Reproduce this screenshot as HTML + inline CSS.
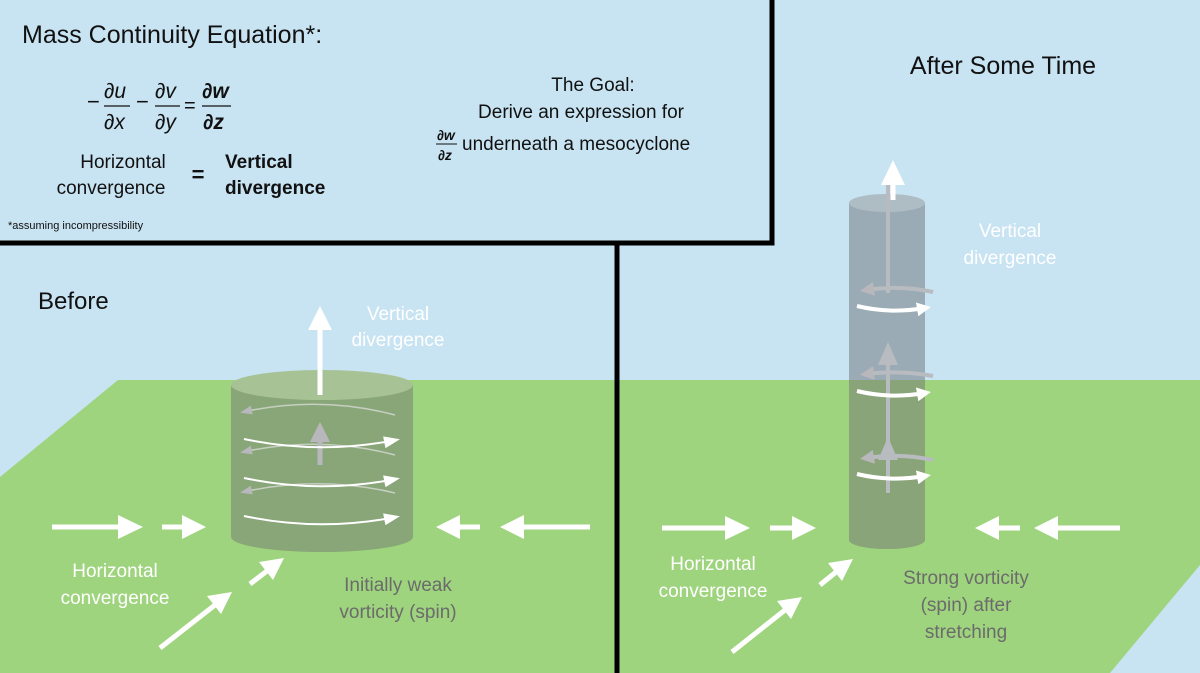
<!DOCTYPE html>
<html><head><meta charset="utf-8"><style>
html,body{margin:0;padding:0;background:#c8e3f2}
svg{display:block}
text{font-family:"Liberation Sans",sans-serif}
</style></head><body>
<svg width="1200" height="673" viewBox="0 0 1200 673" xmlns="http://www.w3.org/2000/svg">
<defs>
<marker id="wh" markerWidth="4" markerHeight="4" refX="2" refY="2" orient="auto" markerUnits="strokeWidth"><path d="M0,0 L4,2 L0,4 z" fill="#fff"/></marker>
<marker id="whs" markerWidth="8" markerHeight="6" refX="6" refY="3" orient="auto" markerUnits="strokeWidth"><path d="M0,0 L8,3 L0,6 z" fill="#fff"/></marker>
<marker id="gys" markerWidth="8" markerHeight="6" refX="6" refY="3" orient="auto" markerUnits="strokeWidth"><path d="M0,0 L8,3 L0,6 z" fill="#b8b8bc"/></marker>
<marker id="wh2" markerWidth="3.5" markerHeight="3.5" refX="2" refY="1.75" orient="auto" markerUnits="strokeWidth"><path d="M0,0 L3.5,1.75 L0,3.5 z" fill="#fff"/></marker>
<marker id="gy2" markerWidth="3.5" markerHeight="3.5" refX="2" refY="1.75" orient="auto" markerUnits="strokeWidth"><path d="M0,0 L3.5,1.75 L0,3.5 z" fill="#b8b8bc"/></marker>
</defs>
<rect width="1200" height="673" fill="#c8e3f2"/>
<!-- green grounds -->
<polygon points="0,477 118,380 615,380 615,673 0,673" fill="#9fd47e"/>
<polygon points="618,380 1200,380 1200,565 1110,673 618,673" fill="#9fd47e"/>

<!-- top box borders -->
<rect x="-5" y="-5" width="777" height="248" fill="none" stroke="#000" stroke-width="5"/>
<line x1="617" y1="243" x2="617" y2="673" stroke="#000" stroke-width="5"/>

<!-- top texts -->
<text x="22" y="43" font-size="25" fill="#111">Mass Continuity Equation*:</text>
<g font-family="Liberation Serif" font-style="italic" fill="#111" font-size="21">
<text x="87" y="109" font-size="22" font-style="normal">−</text>
<text x="104" y="98">∂u</text><line x1="104" y1="106" x2="130" y2="106" stroke="#111" stroke-width="1.2"/><text x="104" y="129">∂x</text>
<text x="136" y="109" font-size="22" font-style="normal">−</text>
<text x="155" y="98">∂v</text><line x1="155" y1="106" x2="180" y2="106" stroke="#111" stroke-width="1.2"/><text x="155" y="129">∂y</text>
<text x="184" y="112" font-size="20" font-style="normal">=</text>
<text x="202" y="98" font-weight="bold">∂w</text><line x1="202" y1="106" x2="231" y2="106" stroke="#111" stroke-width="1.2"/><text x="203" y="129" font-weight="bold">∂z</text>
</g>
<text x="123" y="168" font-size="19" fill="#111" text-anchor="middle">Horizontal</text>
<text x="111" y="194" font-size="19" fill="#111" text-anchor="middle">convergence</text>
<text x="198" y="182" font-size="22" font-weight="bold" fill="#111" text-anchor="middle">=</text>
<text x="225" y="168" font-size="19" font-weight="bold" fill="#111">Vertical</text>
<text x="225" y="194" font-size="19" font-weight="bold" fill="#111">divergence</text>
<text x="8" y="229" font-size="11" fill="#111">*assuming incompressibility</text>
<text x="593" y="91" font-size="19" fill="#111" text-anchor="middle">The Goal:</text>
<text x="581" y="118" font-size="19" fill="#111" text-anchor="middle">Derive an expression for</text>
<g font-family="Liberation Serif" font-style="italic" font-weight="bold" fill="#111" font-size="14">
<text x="437" y="140">∂w</text><line x1="436" y1="144" x2="457" y2="144" stroke="#111" stroke-width="1"/><text x="438" y="160">∂z</text>
</g>
<text x="462" y="150" font-size="19" fill="#111">underneath a mesocyclone</text>

<text x="1003" y="74" font-size="25" fill="#111" text-anchor="middle">After Some Time</text>
<text x="38" y="309" font-size="24" fill="#111">Before</text>

<!-- LEFT cylinder -->
<path d="M231,385 L231,537 A91,15 0 0 0 413,537 L413,385 Z" fill="#88a678"/>
<ellipse cx="322" cy="385" rx="91" ry="15" fill="#a7c396"/>
<!-- up arrow -->
<line x1="320" y1="395" x2="320" y2="328" stroke="#fff" stroke-width="5"/>
<polygon points="308,330 332,330 320,306" fill="#fff"/>
<!-- gray rings back -->
<path d="M395,415 Q320,395 243,412" fill="none" stroke="#c7cfc2" stroke-width="1.5" marker-end="url(#gys)"/>
<path d="M395,455 Q320,435 243,452" fill="none" stroke="#c7cfc2" stroke-width="1.5" marker-end="url(#gys)"/>
<path d="M395,493 Q320,475 243,492" fill="none" stroke="#c7cfc2" stroke-width="1.5" marker-end="url(#gys)"/>
<!-- gray inner arrow -->
<line x1="320" y1="465" x2="320" y2="440" stroke="#b8b8bc" stroke-width="5"/>
<polygon points="310,442 330,442 320,422" fill="#b8b8bc"/>
<path d="M244,439 Q320,455 396,440" fill="none" stroke="#fff" stroke-width="2" marker-end="url(#whs)"/>
<path d="M244,478 Q320,494 396,479" fill="none" stroke="#fff" stroke-width="2" marker-end="url(#whs)"/>
<path d="M244,516 Q320,532 396,517" fill="none" stroke="#fff" stroke-width="2" marker-end="url(#whs)"/>

<!-- left arrows -->
<g stroke="#fff" stroke-width="5" fill="#fff">
<line x1="52" y1="527" x2="122" y2="527"/><polygon points="118,515 143,527 118,539" stroke="none"/>
<line x1="162" y1="527" x2="185" y2="527"/><polygon points="182,515 206,527 182,539" stroke="none"/>
<line x1="480" y1="527" x2="457" y2="527"/><polygon points="460,515 436,527 460,539" stroke="none"/>
<line x1="590" y1="527" x2="520" y2="527"/><polygon points="524,515 500,527 524,539" stroke="none"/>
<line x1="160" y1="648" x2="215" y2="605"/><polygon points="207,596 232,592 221,614" stroke="none"/>
<line x1="250" y1="584" x2="267" y2="571"/><polygon points="259,562 284,558 273,580" stroke="none"/>
</g>
<text x="115" y="577" font-size="19" fill="#fff" text-anchor="middle">Horizontal</text>
<text x="115" y="604" font-size="19" fill="#fff" text-anchor="middle">convergence</text>
<text x="398" y="591" font-size="19" fill="#6b6b6b" text-anchor="middle">Initially weak</text>
<text x="398" y="618" font-size="19" fill="#6b6b6b" text-anchor="middle">vorticity (spin)</text>
<text x="398" y="320" font-size="19" fill="#fff" text-anchor="middle">Vertical</text>
<text x="398" y="346" font-size="19" fill="#fff" text-anchor="middle">divergence</text>

<!-- RIGHT cylinder -->
<path d="M849,203 L849,540 A38,9 0 0 0 925,540 L925,203 Z" fill="#8c9a8a" opacity="0.45"/>
<path d="M849,380 L849,540 A38,9 0 0 0 925,540 L925,380 Z" fill="#88a278" opacity="0.9"/>
<path d="M849,203 L849,380 L925,380 L925,203 Z" fill="#9aabb5"/>
<ellipse cx="887" cy="203" rx="38" ry="9" fill="#aebcc4"/>
<line x1="888" y1="293" x2="888" y2="182" stroke="#b8bcc0" stroke-width="4"/>
<line x1="893" y1="200" x2="893" y2="180" stroke="#fff" stroke-width="5"/>
<polygon points="881,185 905,185 893,160" fill="#fff"/>
<line x1="888" y1="493" x2="888" y2="360" stroke="#b8bcc0" stroke-width="4"/>
<polygon points="878,365 898,365 888,342" fill="#b8bcc0"/>
<line x1="888" y1="480" x2="888" y2="455" stroke="#b8bcc0" stroke-width="4"/>
<polygon points="878,460 898,460 888,437" fill="#b8bcc0"/>
<g fill="none" stroke-width="4">
<path d="M933,292 Q900,285 866,290" stroke="#b8bcc0" marker-end="url(#gy2)"/>
<path d="M933,376 Q900,370 866,374" stroke="#b8bcc0" marker-end="url(#gy2)"/>
<path d="M933,460 Q900,453 866,458" stroke="#b8bcc0" marker-end="url(#gy2)"/>
<path d="M857,306 Q890,314 925,308" stroke="#fff" marker-end="url(#wh2)"/>
<path d="M857,391 Q890,399 925,393" stroke="#fff" marker-end="url(#wh2)"/>
<path d="M857,474 Q890,482 925,476" stroke="#fff" marker-end="url(#wh2)"/>
</g>
<text x="1010" y="237" font-size="19" fill="#fff" text-anchor="middle">Vertical</text>
<text x="1010" y="264" font-size="19" fill="#fff" text-anchor="middle">divergence</text>

<g stroke="#fff" stroke-width="5" fill="#fff">
<line x1="662" y1="528" x2="730" y2="528"/><polygon points="725,516 750,528 725,540" stroke="none"/>
<line x1="770" y1="528" x2="795" y2="528"/><polygon points="792,516 816,528 792,540" stroke="none"/>
<line x1="1020" y1="528" x2="997" y2="528"/><polygon points="999,516 975,528 999,540" stroke="none"/>
<line x1="1120" y1="528" x2="1055" y2="528"/><polygon points="1058,516 1034,528 1058,540" stroke="none"/>
<line x1="732" y1="652" x2="785" y2="610"/><polygon points="777,601 802,597 791,619" stroke="none"/>
<line x1="820" y1="585" x2="836" y2="572"/><polygon points="828,563 853,559 842,581" stroke="none"/>
</g>
<text x="713" y="570" font-size="19" fill="#fff" text-anchor="middle">Horizontal</text>
<text x="713" y="597" font-size="19" fill="#fff" text-anchor="middle">convergence</text>
<text x="966" y="584" font-size="19" fill="#6b6b6b" text-anchor="middle">Strong vorticity</text>
<text x="966" y="611" font-size="19" fill="#6b6b6b" text-anchor="middle">(spin) after</text>
<text x="966" y="638" font-size="19" fill="#6b6b6b" text-anchor="middle">stretching</text>
</svg>
</body></html>
